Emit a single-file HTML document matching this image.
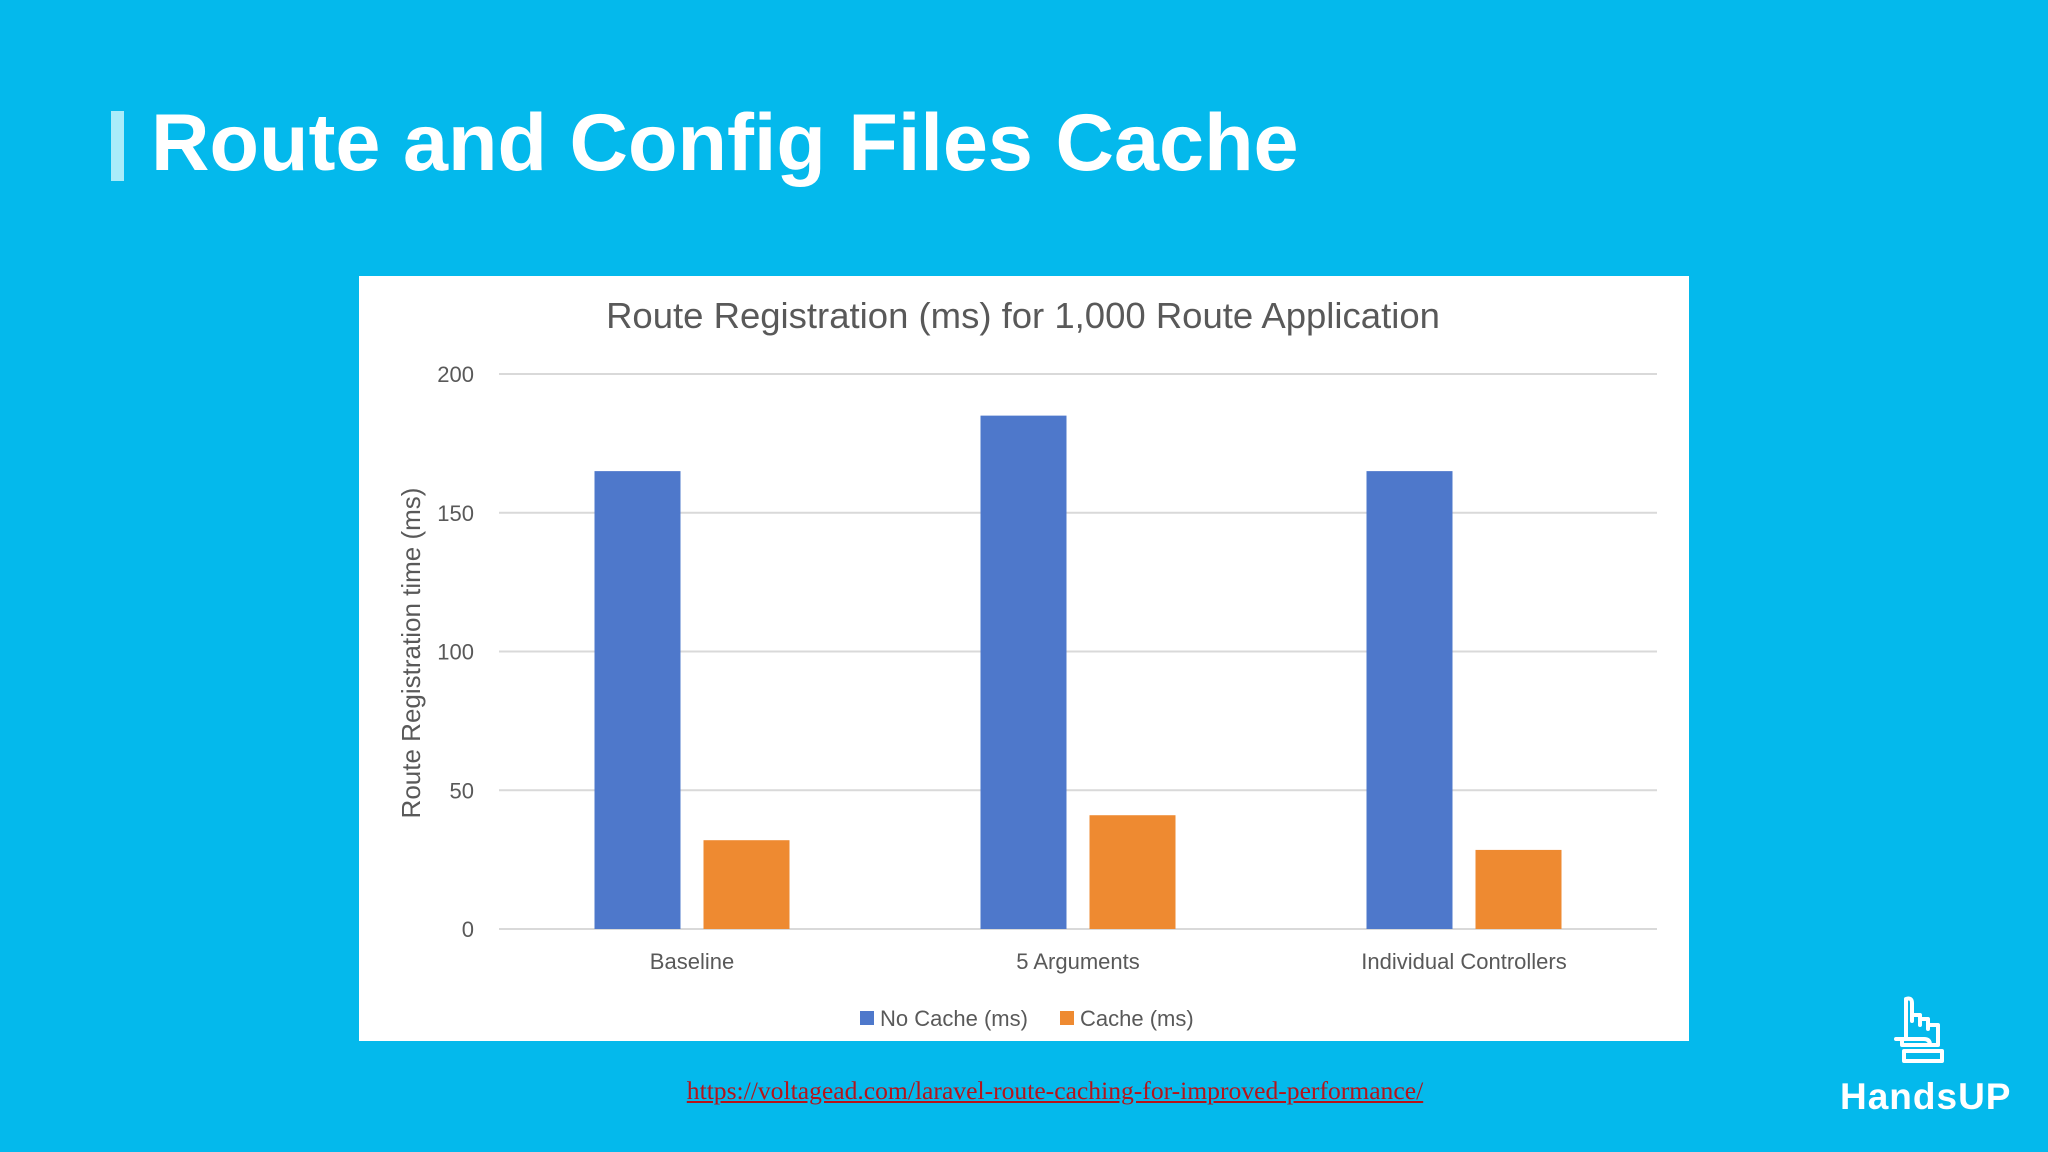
<!DOCTYPE html>
<html><head><meta charset="utf-8"><style>
body{margin:0;width:2048px;height:1152px;background:#04b9ec;position:relative;overflow:hidden;font-family:"Liberation Sans",sans-serif}
.abs{position:absolute}
</style></head><body>
<div class="abs" style="left:111px;top:111px;width:13px;height:70px;background:#a9ecfa"></div>
<div class="abs" style="left:151px;top:88px;font-size:81px;font-weight:bold;color:#fff;line-height:110px;white-space:nowrap">Route and Config Files Cache</div>
<svg class="abs" style="left:0;top:0" width="2048" height="1152">
<rect x="359" y="276" width="1330" height="765" fill="#fff"/>
<text x="1023" y="328" text-anchor="middle" font-size="36.5" fill="#595959" font-family="Liberation Sans, sans-serif">Route Registration (ms) for 1,000 Route Application</text>
<g id="grid"></g><g id="bars"></g><g id="labels"></g>
<text transform="translate(420,653) rotate(-90)" text-anchor="middle" font-size="26" fill="#595959" font-family="Liberation Sans, sans-serif">Route Registration time (ms)</text>
<rect x="860" y="1011" width="14" height="14" fill="#4e78cb"/>
<text x="880" y="1026" font-size="22" fill="#595959" font-family="Liberation Sans, sans-serif">No Cache (ms)</text>
<rect x="1060" y="1011" width="14" height="14" fill="#ee8a31"/>
<text x="1080" y="1026" font-size="22" fill="#595959" font-family="Liberation Sans, sans-serif">Cache (ms)</text>
</svg>
<a class="abs" href="#" style="left:0;width:2110px;text-align:center;top:1076px;font-family:'Liberation Serif',serif;font-size:25.6px;color:#b5141a;text-decoration:underline">https://voltagead.com/laravel-route-caching-for-improved-performance/</a>
<svg class="abs" style="left:1892px;top:995px" width="70" height="76" fill="none" stroke="#fff" stroke-width="4" stroke-linecap="round" stroke-linejoin="round">
<path d="M14 4 v40 M14 4 q6 -2 6 4 v18 M20 20 h8 v10 M28 24 h8 v10 M36 30 h10 v20 M4 44 h28 q6 0 6 6 h8 M10 44 v6 h28"/>
<rect x="12" y="56" width="38" height="10"/>
</svg>
<div class="abs" style="left:1840px;top:1076px;font-size:37px;font-weight:bold;color:#fff;letter-spacing:1px">HandsUP</div>
<script>
const categories=["Baseline","5 Arguments","Individual Controllers"];
const noCache=[165,185,165];
const cache=[32,41,28.5];
const ticks=[0,50,100,150,200];
const NS="http://www.w3.org/2000/svg";
const x0=499,x1=1657,yTop=374,yBot=929,yMax=200;
const y=v=>yBot-(v/yMax)*(yBot-yTop);
const band=(x1-x0)/categories.length;
const cx=i=>x0+band*(i+0.5);
function mk(t,a,p){const e=document.createElementNS(NS,t);for(const k in a)e.setAttribute(k,a[k]);p.appendChild(e);return e;}
const g=document.getElementById('grid'),b=document.getElementById('bars'),l=document.getElementById('labels');
ticks.forEach(t=>{
 const ln=mk('line',{x1:x0,x2:x1,y1:y(t),y2:y(t),stroke:'#d9d9d9','stroke-width':2},g);
 
 
 const tx=mk('text',{x:474,y:y(t)+8,'text-anchor':'end','font-size':22,fill:'#595959','font-family':'Liberation Sans, sans-serif'},l);
 tx.textContent=t;
 
 
});
const bw=86,gap=23;
categories.forEach((c,i)=>{
 const r1=mk('rect',{x:cx(i)-gap/2-bw,y:y(noCache[i]),width:bw,height:yBot-y(noCache[i]),fill:'#4e78cb'},b);
 
 
 const r2=mk('rect',{x:cx(i)+gap/2,y:y(cache[i]),width:bw,height:yBot-y(cache[i]),fill:'#ee8a31'},b);
 
 
 const tx=mk('text',{x:cx(i),y:969,'text-anchor':'middle','font-size':22,fill:'#595959','font-family':'Liberation Sans, sans-serif'},l);
 tx.textContent=c;
 
 
});
</script>
</body></html>
